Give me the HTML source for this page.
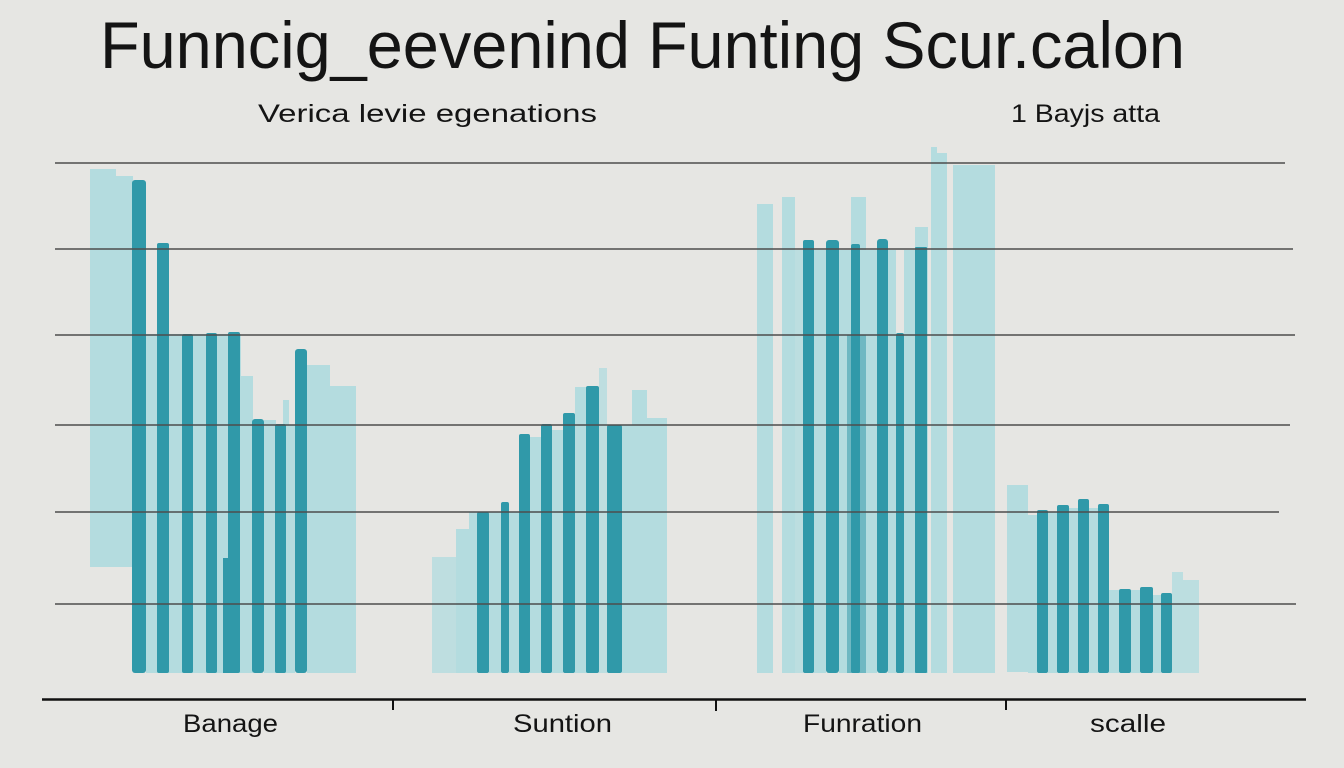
<!DOCTYPE html>
<html>
<head>
<meta charset="utf-8">
<style>
  html,body{margin:0;padding:0;background:#e6e6e3;}
  svg{display:block;}
  text{font-family:"Liberation Sans","DejaVu Sans",sans-serif;fill:#141414;}
</style>
</head>
<body>
<svg width="1344" height="768" viewBox="0 0 1344 768" xmlns="http://www.w3.org/2000/svg">
  <rect x="0" y="0" width="1344" height="768" fill="#e6e6e3"/>

  <!-- Title -->
  <text x="100" y="68" font-size="66" textLength="1085" lengthAdjust="spacingAndGlyphs">Funncig_eevenind Funting Scur.calon</text>
  <text x="258" y="122" font-size="25" textLength="339" lengthAdjust="spacingAndGlyphs">Verica levie egenations</text>
  <text x="1011" y="122" font-size="25" textLength="149" lengthAdjust="spacingAndGlyphs">1 Bayjs atta</text>

  <!-- Light bars -->
  <g fill="#b4dcdf">
    <!-- group 1 -->
    <rect x="90" y="169" width="26" height="398"/>
    <rect x="116" y="176" width="17" height="391"/>
    <rect x="146" y="334" width="95" height="339"/>
    <rect x="241" y="376" width="12" height="297"/>
    <rect x="264" y="420" width="12" height="253"/>
    <rect x="283" y="400" width="6" height="273"/>
    <rect x="286" y="425" width="9" height="248"/>
    <rect x="307" y="365" width="23" height="308"/>
    <rect x="330" y="386" width="26" height="287"/>
    <!-- group 2 -->
    <rect x="432" y="557" width="24" height="116" opacity="0.8"/>
    <rect x="456" y="529" width="13" height="144"/>
    <rect x="469" y="512" width="8" height="161"/>
    <rect x="489" y="512" width="12" height="161"/>
    <rect x="509" y="512" width="10" height="161"/>
    <rect x="530" y="437" width="11" height="236"/>
    <rect x="552" y="430" width="11" height="243"/>
    <rect x="575" y="387" width="12" height="286"/>
    <rect x="599" y="368" width="8" height="305" opacity="0.8"/>
    <rect x="622" y="425" width="10" height="248"/>
    <rect x="632" y="390" width="15" height="283"/>
    <rect x="647" y="418" width="20" height="255"/>
    <!-- group 3 -->
    <rect x="757" y="204" width="16" height="469"/>
    <rect x="782" y="197" width="13" height="476"/>
    <rect x="795" y="250" width="8" height="423" opacity="0.85"/>
    <rect x="814" y="250" width="12" height="423"/>
    <rect x="839" y="250" width="12" height="423"/>
    <rect x="851" y="197" width="15" height="476"/>
    <rect x="866" y="250" width="11" height="423"/>
    <rect x="888" y="250" width="8" height="423"/>
    <rect x="904" y="250" width="11" height="423"/>
    <rect x="915" y="227" width="13" height="446"/>
    <rect x="931" y="147" width="6" height="526"/>
    <rect x="937" y="153" width="10" height="520"/>
    <rect x="953" y="165" width="42" height="508"/>
    <!-- group 4 -->
    <rect x="1007" y="485" width="21" height="187"/>
    <rect x="1028" y="515" width="9" height="158"/>
    <rect x="1048" y="512" width="9" height="161"/>
    <rect x="1069" y="508" width="9" height="165"/>
    <rect x="1089" y="508" width="9" height="165"/>
    <rect x="1109" y="590" width="10" height="83"/>
    <rect x="1131" y="590" width="9" height="83"/>
    <rect x="1153" y="595" width="8" height="78"/>
    <rect x="1172" y="572" width="11" height="101" opacity="0.85"/>
    <rect x="1183" y="580" width="16" height="93" opacity="0.85"/>
  </g>

  <!-- mid tone piece -->
  <rect x="847" y="335" width="19" height="338" fill="#6fb8c2"/>

  <!-- Dark bars -->
  <g fill="#3099a9">
    <!-- group 1 -->
    <rect x="132" y="180" width="14" height="493" rx="3"/>
    <rect x="157" y="243" width="12" height="430" rx="2"/>
    <rect x="182" y="334" width="11" height="339" rx="2"/>
    <rect x="206" y="333" width="11" height="340" rx="2"/>
    <rect x="228" y="332" width="12" height="341" rx="2"/>
    <rect x="223" y="558" width="8" height="115"/>
    <rect x="252" y="419" width="12" height="254" rx="3"/>
    <rect x="275" y="424" width="11" height="249" rx="2"/>
    <rect x="295" y="349" width="12" height="324" rx="3"/>
    <!-- group 2 -->
    <rect x="477" y="512" width="12" height="161" rx="2"/>
    <rect x="501" y="502" width="8" height="171" rx="2"/>
    <rect x="519" y="434" width="11" height="239" rx="2"/>
    <rect x="541" y="424" width="11" height="249" rx="2"/>
    <rect x="563" y="413" width="12" height="260" rx="2"/>
    <rect x="586" y="386" width="13" height="287" rx="2"/>
    <rect x="607" y="425" width="15" height="248" rx="2"/>
    <!-- group 3 -->
    <rect x="803" y="240" width="11" height="433" rx="2"/>
    <rect x="826" y="240" width="13" height="433" rx="3"/>
    <rect x="851" y="244" width="9" height="429" rx="2"/>
    <rect x="877" y="239" width="11" height="434" rx="3"/>
    <rect x="896" y="333" width="8" height="340" rx="2"/>
    <rect x="915" y="247" width="12" height="426" rx="1"/>
    <!-- group 4 -->
    <rect x="1037" y="510" width="11" height="163" rx="2"/>
    <rect x="1057" y="505" width="12" height="168" rx="2"/>
    <rect x="1078" y="499" width="11" height="174" rx="2"/>
    <rect x="1098" y="504" width="11" height="169" rx="2"/>
    <rect x="1119" y="589" width="12" height="84" rx="2"/>
    <rect x="1140" y="587" width="13" height="86" rx="2"/>
    <rect x="1161" y="593" width="11" height="80" rx="2"/>
  </g>

  <!-- Gridlines -->
  <g stroke="#4d4d4d" stroke-width="1.5">
    <line x1="55" y1="163" x2="1285" y2="163"/>
    <line x1="55" y1="249" x2="1293" y2="249"/>
    <line x1="55" y1="335" x2="1295" y2="335"/>
    <line x1="55" y1="425" x2="1290" y2="425"/>
    <line x1="55" y1="512" x2="1279" y2="512"/>
    <line x1="55" y1="604" x2="1296" y2="604"/>
  </g>

  <!-- Axis -->
  <line x1="42" y1="699.5" x2="1306" y2="699.5" stroke="#111" stroke-width="2.5"/>
  <g stroke="#111" stroke-width="2">
    <line x1="393" y1="700" x2="393" y2="710"/>
    <line x1="716" y1="700" x2="716" y2="711"/>
    <line x1="1006" y1="700" x2="1006" y2="710"/>
  </g>

  <!-- Category labels -->
  <text x="183" y="732" font-size="25" textLength="95" lengthAdjust="spacingAndGlyphs">Banage</text>
  <text x="513" y="732" font-size="25" textLength="99" lengthAdjust="spacingAndGlyphs">Suntion</text>
  <text x="803" y="732" font-size="25" textLength="119" lengthAdjust="spacingAndGlyphs">Funration</text>
  <text x="1090" y="732" font-size="25" textLength="76" lengthAdjust="spacingAndGlyphs">scalle</text>
</svg>
</body>
</html>
